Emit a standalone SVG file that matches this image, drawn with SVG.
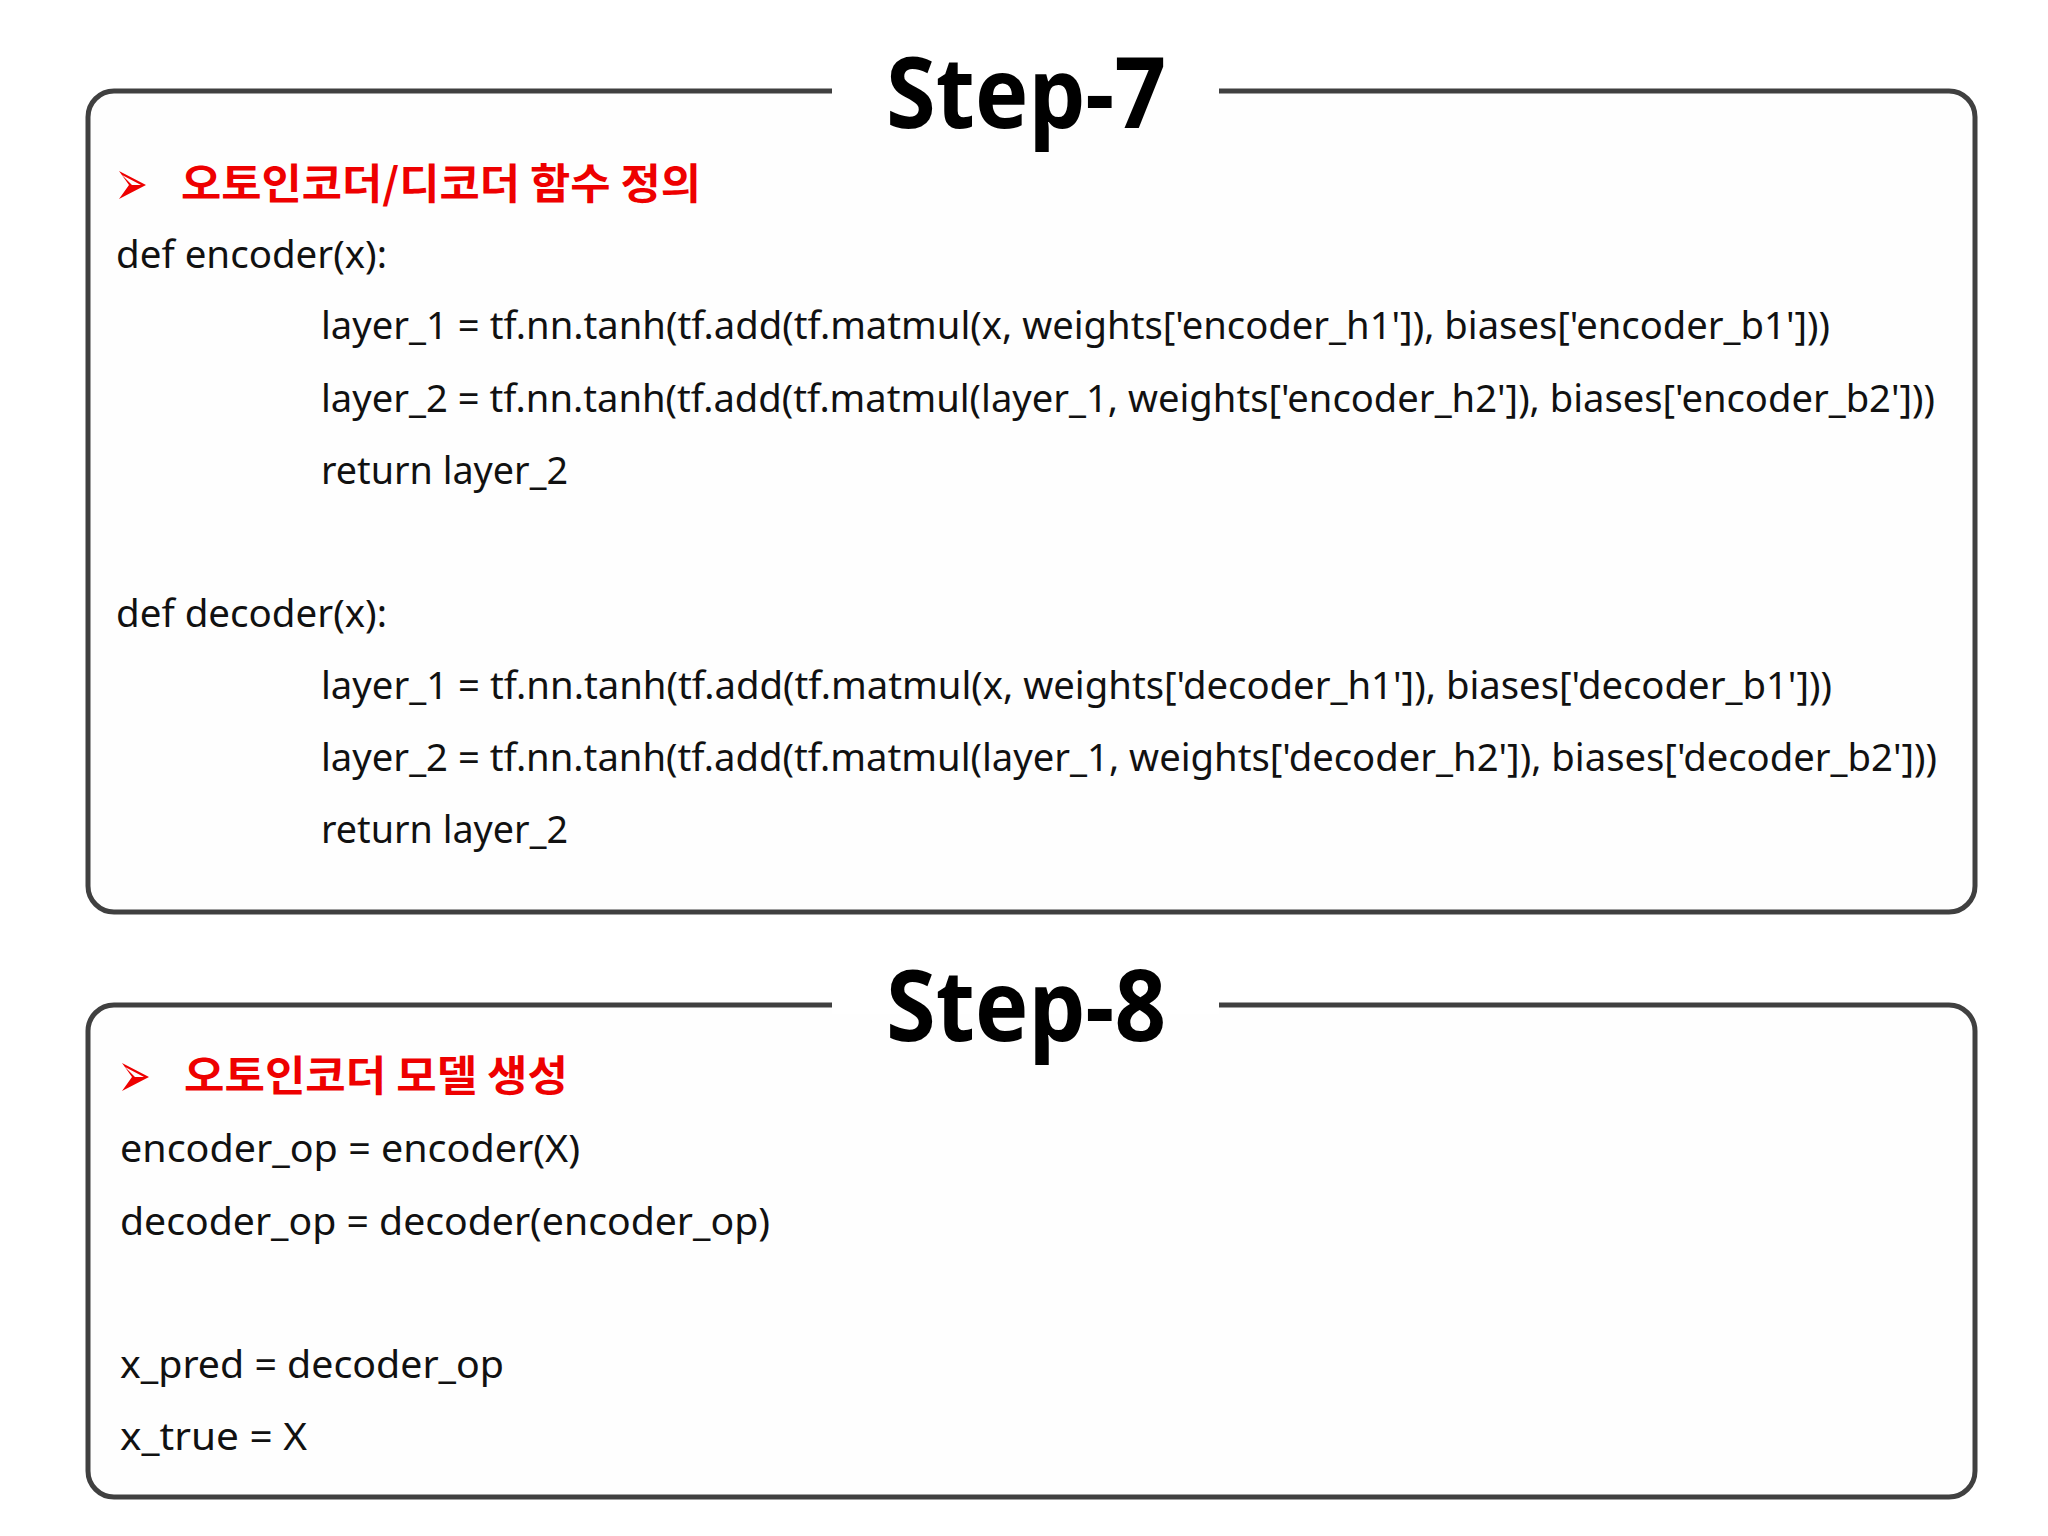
<svg xmlns="http://www.w3.org/2000/svg" width="2048" height="1536" viewBox="0 0 2048 1536">
<style>
.box{fill:#fefefe;stroke:#404040;stroke-width:5}
.gap{fill:#fff}
.step{font-family:"Open Sans","Noto Sans CJK KR",sans-serif;font-weight:bold;font-size:98px;fill:#000}
.head{font-family:"Noto Sans CJK KR",sans-serif;font-weight:bold;font-size:42px;fill:#ee0000}
.code{font-family:"Noto Sans","Noto Sans CJK KR",sans-serif;font-size:39px;fill:#111}
.arr{fill:#ee0000}
</style>
<rect width="2048" height="1536" fill="#fff"/>
<g id="step7">
<rect class="box" x="88" y="91" width="1887" height="821" rx="26"/>
<rect class="gap" x="832" y="80" width="387" height="20"/>
<text class="step" x="886" y="128" textLength="280" lengthAdjust="spacingAndGlyphs">Step-7</text>
<path class="arr" d="M119 171 L146 185 L119 199 L129 185 Z M122 175 L141 185 L132 185 Z" fill-rule="evenodd"/>
<text class="head" x="181" y="199" textLength="520" lengthAdjust="spacingAndGlyphs">오토인코더/디코더 함수 정의</text>
<text class="code" x="116" y="268" textLength="271" lengthAdjust="spacingAndGlyphs">def encoder(x):</text>
<text class="code" x="321" y="339" textLength="1509" lengthAdjust="spacingAndGlyphs">layer_1 = tf.nn.tanh(tf.add(tf.matmul(x, weights['encoder_h1']), biases['encoder_b1']))</text>
<text class="code" x="321" y="412" textLength="1614" lengthAdjust="spacingAndGlyphs">layer_2 = tf.nn.tanh(tf.add(tf.matmul(layer_1, weights['encoder_h2']), biases['encoder_b2']))</text>
<text class="code" x="321" y="484" textLength="247" lengthAdjust="spacingAndGlyphs">return layer_2</text>
<text class="code" x="116" y="627" textLength="271" lengthAdjust="spacingAndGlyphs">def decoder(x):</text>
<text class="code" x="321" y="699" textLength="1511" lengthAdjust="spacingAndGlyphs">layer_1 = tf.nn.tanh(tf.add(tf.matmul(x, weights['decoder_h1']), biases['decoder_b1']))</text>
<text class="code" x="321" y="771" textLength="1616" lengthAdjust="spacingAndGlyphs">layer_2 = tf.nn.tanh(tf.add(tf.matmul(layer_1, weights['decoder_h2']), biases['decoder_b2']))</text>
<text class="code" x="321" y="843" textLength="247" lengthAdjust="spacingAndGlyphs">return layer_2</text>
</g>
<g id="step8">
<rect class="box" x="88" y="1005" width="1887" height="492" rx="26"/>
<rect class="gap" x="832" y="994" width="387" height="20"/>
<text class="step" x="886" y="1041" textLength="280" lengthAdjust="spacingAndGlyphs">Step-8</text>
<path class="arr" d="M122 1063 L149 1077 L122 1091 L132 1077 Z M125 1067 L144 1077 L135 1077 Z" fill-rule="evenodd"/>
<text class="head" x="184" y="1091" textLength="384" lengthAdjust="spacingAndGlyphs">오토인코더 모델 생성</text>
<text class="code" x="120" y="1162" textLength="460" lengthAdjust="spacingAndGlyphs">encoder_op = encoder(X)</text>
<text class="code" x="120" y="1235" textLength="650" lengthAdjust="spacingAndGlyphs">decoder_op = decoder(encoder_op)</text>
<text class="code" x="120" y="1378" textLength="384" lengthAdjust="spacingAndGlyphs">x_pred = decoder_op</text>
<text class="code" x="120" y="1450" textLength="187" lengthAdjust="spacingAndGlyphs">x_true = X</text>
</g>
<g id="connectors"/>
</svg>
